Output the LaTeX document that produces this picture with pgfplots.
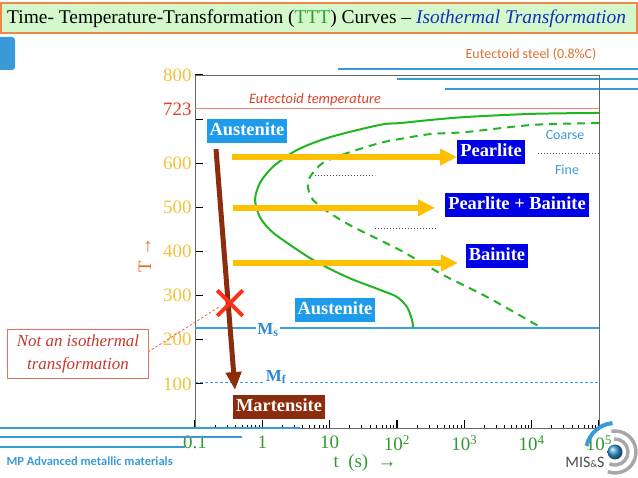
\documentclass[border=0pt]{standalone}
\usepackage{fontspec}
\setmainfont{Liberation Serif}
\setsansfont{Carlito}
\usepackage{pgfplots}
\pgfplotsset{compat=1.18}
\usetikzlibrary{arrows.meta}

\definecolor{tabblue}{HTML}{3A9AD9}
\definecolor{headfill}{HTML}{D4F7CC}
\definecolor{headborder}{HTML}{EE8844}
\definecolor{tttgreen}{HTML}{2EA02E}
\definecolor{isoblue}{HTML}{1030C0}
\definecolor{steelorange}{HTML}{E07030}
\definecolor{tickgold}{HTML}{F2C23C}
\definecolor{eutred}{HTML}{E04028}
\definecolor{eutline}{HTML}{F08070}
\definecolor{tickgreen}{HTML}{2E9A2E}
\definecolor{curvegreen}{HTML}{22B522}
\definecolor{arrowyellow}{HTML}{FFC000}
\definecolor{phaseblue}{HTML}{0000E6}
\definecolor{austblue}{HTML}{1E9BEA}
\definecolor{msline}{RGB}{60,160,228}
\definecolor{mlabel}{HTML}{2A88D8}
\definecolor{martbrown}{HTML}{8B2C0C}
\definecolor{crossred}{HTML}{FF3019}
\definecolor{noteRed}{HTML}{C8382A}
\definecolor{noteBorder}{HTML}{E87060}
\definecolor{logogray}{HTML}{A8A8A8}

\begin{document}
\begin{tikzpicture}
\path[use as bounding box] (0,0) rectangle (638bp,478bp);

% slide frame: header bar, tab and decorative rules
\begin{scope}[x=1bp,y=-1bp,shift={(0,478bp)}]
  \fill[tabblue, rounded corners=3bp] (-6,37) rectangle (15,70);
  \draw[headborder, line width=1.5bp, fill=headfill] (1,3) rectangle (637,33);
  \node[anchor=west, inner sep=0pt, font=\fontsize{19.5}{22}\selectfont] at (7,18.5)
    {Time- Temperature-Transformation (\textcolor{tttgreen}{TTT}) Curves -- \textcolor{isoblue}{\itshape Isothermal Transformation}};
  \node[text=steelorange, font=\sffamily\fontsize{14}{16}\selectfont] at (531,54) {Eutectoid steel (0.8\%C)};
  \draw[tabblue, line width=1.4bp] (338,69) -- (640,69);
  \draw[tabblue, line width=1.4bp] (397,79) -- (640,79);
  \draw[tabblue, line width=1.4bp] (445,89) -- (640,89);
\end{scope}

\begin{axis}[
  at={(195bp,50bp)}, anchor=south west,
  scale only axis, width=404bp, height=353bp,
  xmode=log, xmin=0.1, xmax=1e5, ymin=0, ymax=800,
  clip=false,
  axis line style={black!60, line width=0.8bp},
  tick align=inside, major tick length=8bp,
  tick style={black, line width=1.1bp},
  xtick pos=bottom, ytick pos=left,
  xtick={0.1,1,10,100,1000,10000,100000},
  minor xtick={},
  xticklabels={0.1,1,10,10\textsuperscript{2},10\textsuperscript{3},10\textsuperscript{4},10\textsuperscript{5}},
  ytick={100,200,300,400,500,600,700,800},
  yticklabels={100,200,300,400,500,600,,800},
  extra y ticks={723},
  extra y tick labels={723},
  extra y tick style={major tick length=0pt, yticklabel style={text=eutred}},
  xticklabel style={text=tickgreen, font=\fontsize{19}{20}\selectfont, yshift=-4bp},
  yticklabel style={text=tickgold, font=\fontsize{19}{20}\selectfont},
  xlabel={t~~(s)~~→},
  ylabel={T~→},
  xlabel style={text=tickgreen, font=\fontsize{19}{20}\selectfont, at={(axis description cs:0.421,-0.099)}, anchor=center},
  ylabel style={text=steelorange, font=\fontsize{19}{20}\selectfont, at={(axis description cs:-0.124,0.49)}, anchor=center},
]
% eutectoid temperature
\addplot[draw=eutline, line width=1bp] coordinates {(0.1,723) (1e5,723)};
% martensite start and finish
\addplot[draw=msline, line width=1.4bp] coordinates {(0.1,227) (1e5,227)};
\addplot[draw=msline, line width=1bp, dash pattern=on 3bp off 2bp] coordinates {(0.1,102) (1e5,102)};

% transformation start curve
\addplot[draw=curvegreen, line width=2bp, smooth] coordinates {
  (1e5,714) (10500,712) (1100,705) (309,698) (111,691) (56,687) (10.1,659)
  (3.27,630) (1.44,592) (0.92,555) (0.78,517) (0.92,478) (1.30,449) (2.03,426)
  (5.66,381) (18.1,342) (56,313) (100,297) (141,274) (167,245) (173,227)};
% transformation finish curve
\addplot[draw=curvegreen, line width=2bp, smooth, dash pattern=on 8bp off 6bp] coordinates {
  (1e5,691) (10500,687) (1100,671) (309,666) (111,655) (56,646) (18.1,623)
  (7.96,601) (5.11,569) (4.76,546) (5.66,517) (10.1,487) (22.2,456)
  (111,403) (482,347) (2170,297) (13300,229)};

% coarse / fine pearlite separators
\addplot[draw=black!70, line width=0.6bp, dash pattern=on 1.5bp off 1.5bp] coordinates {(6.05,573) (47.1,573)};
\addplot[draw=black!70, line width=0.6bp, dash pattern=on 1.5bp off 1.5bp] coordinates {(47.1,453) (379,453)};
\addplot[draw=black!70, line width=0.6bp, dash pattern=on 1.5bp off 1.5bp] coordinates {(12400,623) (1e5,623)};

% isothermal holds
\addplot[color=arrowyellow, line width=6bp, -{Triangle[length=17bp,width=16bp]}] coordinates {(0.355,614) (778,614)};
\addplot[color=arrowyellow, line width=6bp, -{Triangle[length=17bp,width=16bp]}] coordinates {(0.366,499) (367,499)};
\addplot[color=arrowyellow, line width=6bp, -{Triangle[length=17bp,width=16bp]}] coordinates {(0.366,374) (805,374)};

% continuous quench
\addplot[color=martbrown, line width=5bp, -{Triangle[length=18bp,width=15bp]}] coordinates {(0.205,632) (0.393,86)};
\addplot[color=crossred, only marks, mark=x, mark size=18bp, mark options={line width=4bp}] coordinates {(0.331,283)};

% phase labels
\tikzset{phase/.style={text=white, font=\bfseries\fontsize{18.5}{19}\selectfont, text height=13bp, text depth=3.5bp, inner xsep=3bp, inner ysep=4bp}}
\node[phase, fill=austblue] at (axis cs:0.592,673) {Austenite};
\node[phase, fill=austblue] at (axis cs:12.0,267) {Austenite};
\node[phase, fill=phaseblue] at (axis cs:2490,625) {Pearlite};
\node[phase, fill=phaseblue] at (axis cs:6050,505) {Pearlite + Bainite};
\node[phase, fill=phaseblue] at (axis cs:3050,390) {Bainite};
\node[phase, fill=martbrown] at (axis cs:1.77,48) {Martensite};
\node[fill=white, text=mlabel, inner sep=1.5bp, font=\bfseries\fontsize{17}{18}\selectfont] at (axis cs:1.21,222) {M\textsubscript{s}};
\node[fill=white, text=mlabel, inner sep=1.5bp, font=\bfseries\fontsize{17}{18}\selectfont] at (axis cs:1.60,116) {M\textsubscript{f}};
\node[text=eutred, font=\sffamily\itshape\fontsize{14.5}{16}\selectfont] at (axis cs:6.05,744) {Eutectoid temperature};
\node[text=tabblue, font=\sffamily\fontsize{14}{16}\selectfont] at (axis cs:31300,664) {Coarse};
\node[text=tabblue, font=\sffamily\fontsize{14}{16}\selectfont] at (axis cs:33500,585) {Fine};
\end{axis}

% note, footer rules and footer text
\begin{scope}[x=1bp,y=-1bp,shift={(0,478bp)}]
  \draw[crossred!80, line width=0.8bp, dash pattern=on 2.5bp off 2bp] (148,352) -- (219,307);
  \node[draw=noteBorder, line width=0.8bp, fill=white, text=noteRed, align=center,
        minimum width=141bp, minimum height=49bp, inner sep=1bp,
        font=\itshape\fontsize{17}{23}\selectfont] at (78,353.5) {Not an isothermal\\transformation};
  \draw[tabblue, line width=1.6bp] (-2,428) -- (300,428);
  \draw[tabblue, line width=1.6bp] (-2,437) -- (242,437);
  \draw[tabblue, line width=1.6bp] (-2,447) -- (185,447);
  \node[anchor=west, text=tabblue, font=\sffamily\bfseries\fontsize{12.5}{14}\selectfont] at (3,461) {MP Advanced metallic materials};
\end{scope}

% logo
\begin{scope}[shift={(615bp,26bp)}]
  \draw[logogray, line width=3.5bp] (95:13bp) arc[start angle=95, end angle=-115, radius=13bp];
  \draw[logogray, line width=3.5bp] (100:21bp) arc[start angle=100, end angle=-110, radius=21bp];
  \draw[tabblue, line width=4bp] (95:29bp) arc[start angle=95, end angle=168, radius=29bp];
  \shade[ball color=tabblue] (0,0) circle (7.5bp);
  \node[text=black!70, font=\sffamily\fontsize{16}{16}\selectfont, anchor=east] at (-7bp,-10bp) {MIS{\fontsize{10}{10}\selectfont\&}S};
\end{scope}
\end{tikzpicture}
\end{document}
